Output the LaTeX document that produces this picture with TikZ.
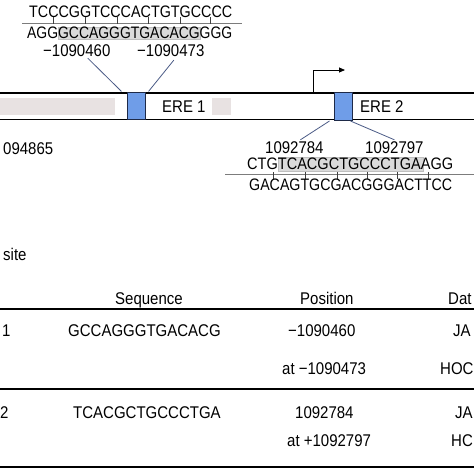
\documentclass[tikz,border=0pt]{standalone}
\usepackage{fontspec}
\setmainfont{Liberation Sans}
\usetikzlibrary{arrows.meta,positioning,calc}
\definecolor{ere}{HTML}{6F9DE8}
\definecolor{ereline}{HTML}{1E2A48}
\definecolor{link}{HTML}{4B5B86}
\definecolor{barfill}{HTML}{E8E2E2}
\definecolor{hilite}{HTML}{DADADA}
\definecolor{strand}{HTML}{7C7C7C}
\newcommand{\tl}[1]{\scalebox{1}[1.13]{#1}}
\newcommand{\dna}[2]{\resizebox{#1}{11.6pt}{#2}}

\begin{document}
\begin{tikzpicture}[x=1pt,y=-1pt,
  every node/.style={inner sep=0pt,text height=12pt,text depth=0pt,
    font=\fontsize{15}{17}\selectfont},
  seq/.style={anchor=west,text height=11.6pt},
  txt/.style={anchor=west},
  tick/.style={draw=black!75,line width=0.6pt},
  link/.style={draw=link,line width=0.8pt},
  erebox/.style={draw=ereline,fill=ere,line width=1pt,minimum width=18pt,
    text height=,text depth=},
  rule/.style={line width=1.3pt}]
  \useasboundingbox (0,0) rectangle (474,474);
  \clip (0,0) rectangle (474,474);

  % ERE 1 sequence
  \filldraw[fill=hilite,draw=black!25,line width=0.5pt] (58,27) rectangle (200,39);
  \node[seq] (top1) at (29,12) {\dna{203pt}{TCCCGGTCCCACTGTGCCCC}};
  \draw[strand,line width=0.8pt] (22,23) -- (242,23);
  \foreach \x in {53,85,117,148,180,210}
    \draw[tick] (\x,17) -- (\x,24);
  \node[seq] (bot1) at (27,33) {\dna{205pt}{AGGGCCAGGGTGACACGGGG}};
  \node[txt] (pos1a) at (43,50) {\tl{−1090460}};
  \node[txt] (pos1b) at (137,50) {\tl{−1090473}};

  % Promoter bar
  \fill[barfill] (0,98) rectangle (115,115);
  \fill[barfill] (212,98) rectangle (231,115);
  \draw[line width=1.6pt] (0,93) -- (474,93);
  \draw[line width=1.6pt] (0,119.5) -- (474,119.5);
  \node[erebox,minimum height=26.5pt] (ere1) at (136,106.2) {};
  \node[txt] (lab1) at (162,106) {\tl{ERE 1}};
  \node[erebox,minimum height=28pt] (ere2) at (343,106.5) {};
  \node[txt] (lab2) at (360,106) {\tl{ERE 2}};
  % Transcription start
  \coordinate (tss) at (313,93);
  \coordinate (tssend) at (345,70);
  \draw[line width=0.8pt,-{Triangle[length=6pt,width=5pt]}] (tss) |- (tssend);

  \node[txt] (left1) at (3,148) {\tl{094865}};

  % ERE 2 sequence
  \node[txt] (pos2a) at (265,147) {\tl{1092784}};
  \node[txt] (pos2b) at (365,147) {\tl{1092797}};
  \filldraw[fill=hilite,draw=black!25,line width=0.5pt] (278,157) rectangle (423,171);
  \node[seq] (top2) at (247,164) {\dna{206pt}{CTGTCACGCTGCCCTGAAGG}};
  \draw[strand,line width=0.8pt] (225,174) -- (474,174);
  \foreach \x in {273,305,337,367,397,428}
    \draw[tick] (\x,172) -- (\x,179);
  \node[seq] (bot2) at (249,185) {\dna{203pt}{GACAGTGCGACGGGACTTCC}};

  % Connectors
  \draw[link] ([xshift=11pt,yshift=-2pt]pos1a.south) -- ([xshift=-5pt,yshift=1pt]ere1.north west);
  \draw[link] ([xshift=3pt,yshift=-4pt]pos1b.south) -- ([xshift=3pt,yshift=1pt]ere1.north east);
  \draw[link] ([xshift=-4pt]ere2.south west) -- ([xshift=6pt,yshift=1pt]pos2a.north);
  \draw[link] ([xshift=-2pt]ere2.south east) -- ([yshift=1pt]pos2b.north);

  % Table
  \node[txt] (site) at (3,254) {\tl{site}};
  \node[txt] (hseq) at (115,298) {\tl{Sequence}};
  \node[txt] (hpos) at (300,298) {\tl{Position}};
  \node[txt] (hdat) at (448,298) {\tl{Dat}};
  \draw[rule] (0,309) -- (474,309);
  \node[txt] (r1a) at (2,330) {\tl{1}};
  \node[txt] (r1b) at (68,330) {\tl{GCCAGGGTGACACG}};
  \node[txt] (r1c) at (288,330) {\tl{−1090460}};
  \node[txt] (r1d) at (453,330) {\tl{JA}};
  \node[txt] (r1e) at (282,368) {\tl{at −1090473}};
  \node[txt] (r1f) at (440,368) {\tl{HOC}};
  \draw[rule] (0,389) -- (474,389);
  \node[txt] (r2a) at (0,412) {\tl{2}};
  \node[txt] (r2b) at (73,412) {\tl{TCACGCTGCCCTGA}};
  \node[txt] (r2c) at (295,412) {\tl{1092784}};
  \node[txt] (r2d) at (455,412) {\tl{JA}};
  \node[txt] (r2e) at (287,440) {\tl{at +1092797}};
  \node[txt] (r2f) at (451,440) {\tl{HC}};
  \draw[rule] (0,467) -- (474,467);
\end{tikzpicture}
\end{document}
